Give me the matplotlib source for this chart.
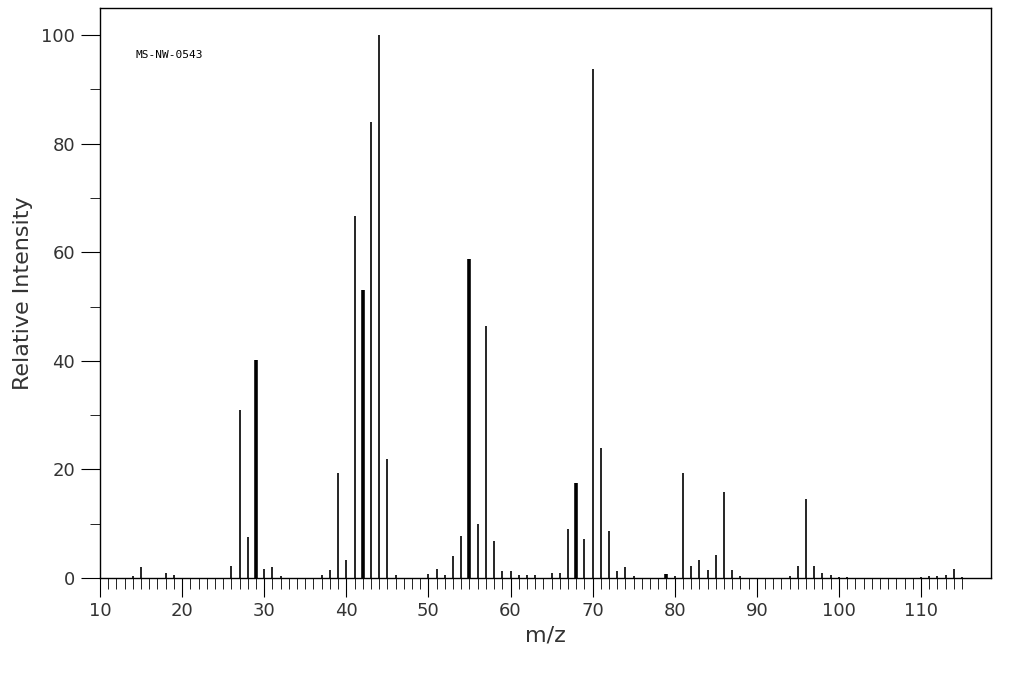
import matplotlib
matplotlib.use("Agg")
import matplotlib.pyplot as plt
from matplotlib.ticker import MultipleLocator, FixedLocator

mz = [14,15,18,19,26,27,28,29,30,31,32,37,38,39,40,41,42,43,44,45,46,
      50,51,52,53,54,55,56,57,58,59,60,61,62,63,65,66,67,68,69,70,71,72,73,74,75,
      79,80,81,82,83,84,85,86,87,88,94,95,96,97,98,99,100,101,110,111,112,113,114,115]
inten = [0.3,2.0,1.0,0.5,2.2,31,7.5,40.2,1.7,2.0,0.3,0.5,1.4,19.3,3.4,66.7,53,84,100,22,0.5,
         0.8,1.6,0.6,4.1,7.7,58.8,10,46.5,6.8,1.2,1.2,0.6,0.6,0.6,0.9,0.9,9,17.5,7.2,93.8,24,8.7,1.2,2.0,0.3,
         0.8,0.3,19.3,2.3,3.4,1.5,4.3,15.8,1.4,0.3,0.3,2.3,14.5,2.3,0.9,0.6,0.2,0.2,0.2,0.3,0.3,0.6,1.7,0.2]
thick = [29,42,55,68,79]

fig = plt.figure(figsize=(10.24,6.78), dpi=100)
ax = fig.add_axes([100/1024, 100/678, 891/1024, 570/678])
lw = [2.6 if m in thick else 1.2 for m in mz]
ax.vlines(mz, 0, inten, colors='black', linewidth=lw)
ax.set_xlim(10, 10+891/8.21)
ax.set_ylim(0, 105)
ax.xaxis.set_major_locator(FixedLocator(list(range(10, 111, 10))))
ax.xaxis.set_minor_locator(FixedLocator(list(range(10, 116))))
ax.yaxis.set_major_locator(MultipleLocator(20))
ax.yaxis.set_minor_locator(FixedLocator(list(range(10, 100, 20))))
ax.tick_params(axis='x', which='major', direction='out', length=14, labelsize=13, pad=3, labelcolor='#333333')
ax.tick_params(axis='x', which='minor', direction='out', length=8)
ax.tick_params(axis='y', which='major', direction='out', length=14, labelsize=13, pad=4, labelcolor='#333333')
ax.tick_params(axis='y', which='minor', direction='out', length=7)
for s in ax.spines.values():
    s.set_linewidth(1.0)
ax.set_xlabel('m/z', fontsize=16, color='#333333', labelpad=4)
ax.set_ylabel('Relative Intensity', fontsize=16, color='#333333', labelpad=6)
ax.text(135, 100, 'MS-NW-0543', transform=ax.transData, alpha=0) if False else None
ax.text(35/891, (678-100-55)/570, 'MS-NW-0543', transform=ax.transAxes, fontsize=8,
        family='DejaVu Sans Mono', va='center')
fig.savefig('out.png', dpi=100)
